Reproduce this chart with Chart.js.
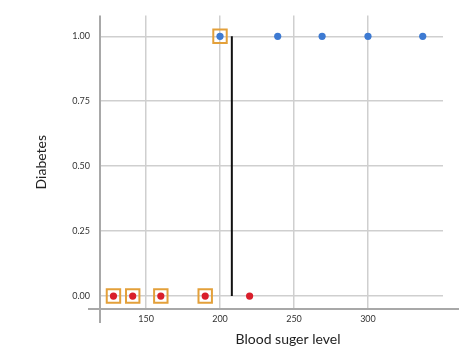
<!DOCTYPE html>
<html>
<head>
<meta charset="utf-8">
<style>
html,body{margin:0;padding:0;background:#fff;}
#wrap{width:474px;height:355px;position:relative;}
</style>
<script src="https://cdn.jsdelivr.net/npm/chart.js@4.4.1/dist/chart.umd.min.js"></script>
</head>
<body>
<div id="wrap"><canvas id="c" width="474" height="355"></canvas></div>
<script>
// Data
const blueX = [200, 239, 269, 300, 337];        // Diabetes = 1
const blueY = [1, 1, 1, 1, 1];
const redX = [128, 141, 160, 190, 220];          // Diabetes = 0
const redY = [0, 0, 0, 0, 0];
const boxedX = [200, 128, 141, 160, 190];        // highlighted points
const boxedY = [1, 0, 0, 0, 0];
const thresholdX = [208, 208];                   // vertical threshold line
const thresholdY = [0, 1];
const xTicks = [150, 200, 250, 300];
const yTicks = [0, 0.25, 0.5, 0.75, 1];
const xTitle = 'Blood suger level';
const yTitle = 'Diabetes';

const toPts = (xs, ys) => xs.map((x, i) => ({x: x, y: ys[i]}));

const axisLines = {
  id: 'axisLines',
  beforeDatasetsDraw(chart) {
    const {ctx, chartArea: a} = chart;
    ctx.save();
    ctx.strokeStyle = '#a8a8a8';
    ctx.lineWidth = 2;
    ctx.beginPath();
    ctx.moveTo(a.left - 12, a.bottom);
    ctx.lineTo(a.right + 16, a.bottom);
    ctx.moveTo(a.left, a.top);
    ctx.lineTo(a.left, a.bottom + 14);
    ctx.stroke();
    ctx.restore();
  },
  afterDraw(chart) {
    const {ctx, chartArea: a} = chart;
    ctx.save();
    ctx.fillStyle = '#222';
    ctx.font = '14px Lato';
    ctx.textAlign = 'center';
    ctx.textBaseline = 'middle';
    ctx.fillText(xTitle, (a.left + a.right) / 2 + 16.5, a.bottom + 30);
    ctx.restore();
  }
};

new Chart(document.getElementById('c'), {
  type: 'scatter',
  data: {
    datasets: [
      {
        type: 'line',
        data: toPts(thresholdX, thresholdY),
        borderColor: '#111',
        borderWidth: 2,
        pointRadius: 0,
        fill: false,
        order: 4
      },
      {
        data: toPts(boxedX, boxedY),
        pointStyle: 'rect',
        pointRadius: 9.5,
        backgroundColor: 'rgba(0,0,0,0)',
        borderColor: '#E3A03A',
        borderWidth: 2,
        order: 3
      },
      {
        data: toPts(blueX, blueY),
        pointRadius: 3.6,
        backgroundColor: '#3D7AD2',
        borderColor: '#3D7AD2',
        borderWidth: 0,
        order: 1
      },
      {
        data: toPts(redX, redY),
        pointRadius: 3.6,
        backgroundColor: '#D91E2B',
        borderColor: '#D91E2B',
        borderWidth: 0,
        order: 1
      }
    ]
  },
  options: {
    responsive: false,
    animation: false,
    devicePixelRatio: 1,
    layout: {padding: {left: 0, top: 14, right: 31, bottom: 0}},
    plugins: {legend: {display: false}, tooltip: {enabled: false}},
    scales: {
      x: {
        type: 'linear',
        min: 118.9,
        max: 350.7,
        afterBuildTicks: s => { s.ticks = xTicks.map(v => ({value: v})); },
        afterFit: s => { s.height = 46; },
        grid: {color: '#cfcfcf', lineWidth: 1.5, drawTicks: false},
        border: {display: false},
        ticks: {
          padding: 5,
          color: '#333',
          font: {family: 'Lato', size: 9},
          callback: v => String(v)
        },
        title: {display: false, text: xTitle}
      },
      y: {
        type: 'linear',
        min: -0.0498,
        max: 1.0805,
        afterBuildTicks: s => { s.ticks = yTicks.map(v => ({value: v})); },
        afterFit: s => { s.width = 100; },
        grid: {color: '#cfcfcf', lineWidth: 1.5, drawTicks: false},
        border: {display: false},
        ticks: {
          padding: 10,
          color: '#333',
          font: {family: 'Lato', size: 9},
          callback: v => Number(v).toFixed(2)
        },
        title: {
          display: true,
          text: yTitle,
          color: '#222',
          font: {family: 'Lato', size: 14},
          padding: {top: 33, bottom: 0}
        }
      }
    }
  },
  plugins: [axisLines]
});
</script>
</body>
</html>
